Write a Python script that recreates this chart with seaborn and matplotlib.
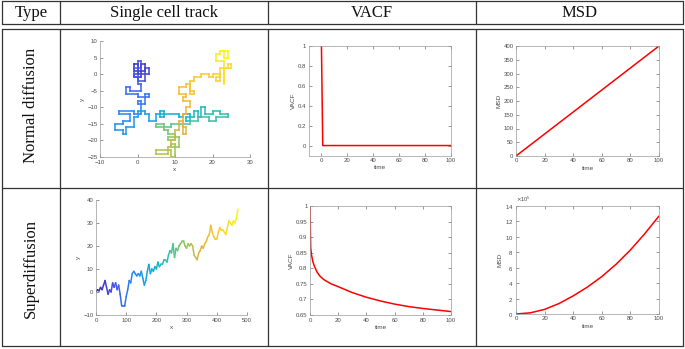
import matplotlib
matplotlib.use("Agg")
import matplotlib.pyplot as plt
from matplotlib.collections import LineCollection
from matplotlib.colors import LinearSegmentedColormap
from matplotlib.ticker import ScalarFormatter
import numpy as np
import seaborn as sns

# ---------------- data ----------------
header = ["Type", "Single cell track", "VACF", "MSD"]
row_labels = ["Normal diffusion", "Superdiffusion"]

# lattice random walk (corners of the path), normal diffusion
normal_track = [
    (0, 0), (0, 3), (-1, 3), (-1, 1), (2, 1), (2, 3), (1, 3), (1, -1), (-1, -1),
    (-1, 0), (3, 0), (3, 2), (2, 2), (2, -2), (0, -2), (0, 4), (1, 4), (1, 2),
    (-1, 2), (-1, -1), (0, -1), (0, -3), (1, -3),
    (1, -5), (-2, -5), (-2, -4), (-3, -4), (-3, -6), (0, -6), (0, -7), (3, -7),
    (3, -6), (2, -6), (2, -9), (0, -9), (0, -8), (1, -8), (1, -12), (-1, -12),
    (-1, -11), (-5, -11), (-5, -12), (-2, -12), (-2, -14), (-4, -14), (-4, -15),
    (-6, -15), (-6, -17), (-4, -17), (-4, -18), (-3, -18), (-3, -16), (-1, -16),
    (-1, -13), (0, -13), (0, -11), (2, -11), (2, -12),
    (3, -12), (3, -14), (5, -14), (5, -12), (6, -12), (6, -11), (7, -11), (7, -13),
    (6, -13), (6, -12), (11, -12), (11, -13), (12, -13), (12, -12), (14, -12),
    (14, -14), (13, -14), (13, -13), (15, -13),
    (15, -11), (16, -11), (16, -13), (17, -13), (17, -10), (18, -10), (18, -12),
    (20, -12), (20, -11), (22, -11), (22, -12), (24, -12), (24, -13), (21, -13),
    (21, -14), (19, -14), (19, -13), (16, -13), (16, -14), (14, -14), (14, -15),
    (12, -15),
    (9, -15), (9, -16), (5, -16), (5, -15), (7, -15), (7, -17), (8, -17), (8, -18),
    (10, -18),
    (10, -20), (8, -20), (8, -19), (11, -19), (11, -22), (9, -22), (9, -21),
    (10, -21), (10, -25), (9, -25), (9, -23), (5, -23), (5, -24), (8, -24),
    (8, -22), (9, -22), (9, -20), (10, -20), (10, -17),
    (11, -17), (11, -14), (12, -14), (12, -18), (13, -18), (13, -16), (12, -16),
    (12, -12), (13, -12), (13, -10), (14, -10), (14, -8), (12, -8), (12, -7),
    (13, -7), (13, -6), (11, -6), (11, -4), (13, -4), (13, -3), (14, -3), (14, -5),
    (15, -5), (15, -6), (14, -6), (14, -2),
    (15, -2), (15, -1), (17, -1), (17, 0), (19, 0), (19, -1), (20, -1), (20, 0),
    (22, 0), (22, -2), (21, -2), (21, -1), (22, -1),
    (22, 2), (24, 2), (24, 3), (25, 3), (25, 2), (23, 2), (23, -3), (23, 4),
    (21, 4), (21, 6), (22, 6), (22, 7), (23, 7), (23, 5), (24, 5), (24, 7), (22, 7),
]

# superdiffusive track
super_x = [0, 5, 10, 15, 20, 25, 30, 35, 40, 45, 50, 55, 60, 65, 70, 75, 80, 85,
           90, 95, 100, 105, 110, 115, 120, 125, 130, 135, 140, 145, 150, 155,
           160, 165, 170, 175, 180, 185, 190, 195, 200, 205, 210, 215, 220, 225,
           230, 235, 240, 245, 250, 255, 260, 265, 270, 275, 280, 285, 290, 295,
           300, 305, 310, 315, 320, 325, 330, 335, 340, 345, 350, 355, 360, 365,
           370, 375, 380, 385, 390, 395, 400, 405, 410, 415, 420, 425, 430, 435,
           440, 445, 450, 455, 460, 465, 470]
super_y = [0, 1, 0.5, 2, 1, 3, 5, 2, -1, 1, 0, 4, 2, 4, 1, 3, -1, -6, -6, -6,
           -2, 1, 5, 4, 8, 9, 8, 7, 8, 7, 9, 6, 3, 5, 9, 12, 8, 10, 9, 11, 10,
           13, 11, 12, 12, 14, 14, 13, 16, 18, 17, 21, 15, 19, 18, 20, 21, 22,
           22, 20, 19, 21, 20, 21, 20, 16, 15, 14, 17, 18, 20, 19, 21, 22, 24,
           25, 29, 26, 24, 23, 23, 26, 28, 27, 27, 26, 25, 28, 31, 30, 29, 31,
           30, 32, 36]

vacf_normal_t = [0, 1, 100]
vacf_normal = [1, 0, 0]
msd_normal_t = [0, 20, 40, 60, 80, 100]
msd_normal = [0, 80, 160, 240, 320, 400]

vacf_super_t = [0, 0.5, 1, 2, 3, 5, 7, 10, 15, 20, 30, 40, 50, 60, 70, 80, 90, 100]
vacf_super = [1.0, 0.865, 0.845, 0.822, 0.808, 0.788, 0.775, 0.763, 0.750,
              0.741, 0.722, 0.707, 0.695, 0.685, 0.677, 0.671, 0.666, 0.661]
msd_super_t = [0, 10, 20, 30, 40, 50, 60, 70, 80, 90, 100]
msd_super = [0, 0.15e5, 0.6e5, 1.35e5, 2.35e5, 3.5e5, 4.85e5, 6.45e5, 8.3e5,
             10.4e5, 12.7e5]

# ---------------- style ----------------
sns.set_theme(style="white")
plt.rcParams["font.family"] = ["Liberation Sans", "DejaVu Sans"]

parula = LinearSegmentedColormap.from_list("parula", [
    (0.00, (0.24, 0.15, 0.66)), (0.12, (0.27, 0.33, 0.95)),
    (0.28, (0.13, 0.55, 0.95)), (0.40, (0.05, 0.69, 0.84)),
    (0.50, (0.18, 0.75, 0.68)), (0.62, (0.55, 0.78, 0.35)),
    (0.75, (0.92, 0.70, 0.22)), (0.88, (0.99, 0.80, 0.19)),
    (1.00, (0.98, 0.96, 0.08))])

W, H = 685, 349
fig = plt.figure(figsize=(W / 100, H / 100), dpi=100)

# table frame drawn in pixel coordinates
bg = fig.add_axes([0, 0, 1, 1])
bg.set_xlim(0, W)
bg.set_ylim(H, 0)
bg.axis("off")
lc = "#333333"
for y in [1, 24, 29, 188, 346]:
    bg.plot([2, 683], [y, y], color=lc, lw=0.9)
for x in [2, 60.5, 268, 476, 683]:
    bg.plot([x, x], [1, 24], color=lc, lw=0.9)
    bg.plot([x, x], [29, 346], color=lc, lw=0.9)

serif = ["Liberation Serif", "DejaVu Serif"]
for txt, cx in zip(header, [31, 164, 372, 580]):
    bg.text(cx, 13, txt, family=serif, fontsize=12, ha="center", va="center",
            color="#111111")
for txt, cy in zip(row_labels, [105, 268]):
    bg.text(31, cy, txt, family=serif, fontsize=12, ha="center", va="center",
            rotation=90, color="#111111")


def add_ax(left, right, top, bottom):
    return fig.add_axes([left / W, 1 - bottom / H, (right - left) / W,
                         (bottom - top) / H])


def style(ax, box):
    ax.set_facecolor("white")
    ax.tick_params(direction="in", length=2, width=0.4, labelsize=4.3,
                   colors="#4a4a4a", pad=1.8, top=box, right=box,
                   bottom=True, left=True)
    for side, sp in ax.spines.items():
        sp.set_linewidth(0.5)
        sp.set_color("#9a9a9a")
        if not box and side in ("top", "right"):
            sp.set_visible(False)
    ax.grid(False)


def label(ax, xl, yl):
    ax.set_xlabel(xl, fontsize=4.6, color="#4a4a4a", labelpad=1.5)
    ax.set_ylabel(yl, fontsize=4.6, color="#4a4a4a", labelpad=1.5)


# --- normal diffusion track ---
ax1 = add_ax(100, 250, 41, 157)
pts = np.array(normal_track, dtype=float)
segs = np.stack([pts[:-1], pts[1:]], axis=1)
seglen = np.abs(pts[1:] - pts[:-1]).sum(axis=1)
mid = (np.cumsum(seglen) - seglen / 2) / seglen.sum()
ax1.add_collection(LineCollection(segs, colors=parula(mid), linewidths=1.1,
                                  capstyle="projecting", joinstyle="miter"))
ax1.set_xlim(-10, 30)
ax1.set_ylim(-25, 10)
ax1.set_xticks([-10, 0, 10, 20, 30])
ax1.set_yticks(range(-25, 11, 5))
style(ax1, False)
label(ax1, "x", "y")

# --- normal VACF ---
ax2 = add_ax(308.5, 451, 46, 155.5)
sns.lineplot(x=vacf_normal_t, y=vacf_normal, ax=ax2, color="red", lw=1.1,
             estimator=None, sort=False)
ax2.set_xlim(-10, 100)
ax2.set_ylim(-0.1, 1)
ax2.set_xticks([0, 20, 40, 60, 80, 100])
ax2.set_yticks([0, 0.2, 0.4, 0.6, 0.8, 1])
ax2.set_yticklabels(["0", "0.2", "0.4", "0.6", "0.8", "1"])
style(ax2, True)
label(ax2, "time", "VACF")

# --- normal MSD ---
ax3 = add_ax(516, 659, 46, 156)
sns.lineplot(x=msd_normal_t, y=msd_normal, ax=ax3, color="red", lw=1.1,
             estimator=None, sort=False)
ax3.set_xlim(0, 100)
ax3.set_ylim(0, 400)
ax3.set_xticks([0, 20, 40, 60, 80, 100])
ax3.set_yticks(range(0, 401, 50))
style(ax3, True)
label(ax3, "time", "MSD")

# --- superdiffusion track ---
ax4 = add_ax(96, 247, 200, 315)
sp = np.column_stack([super_x, super_y]).astype(float)
ssegs = np.stack([sp[:-1], sp[1:]], axis=1)
sfrac = np.linspace(0, 1, len(ssegs))
ax4.add_collection(LineCollection(ssegs, colors=parula(sfrac), linewidths=1.1,
                                  capstyle="round"))
ax4.set_xlim(0, 500)
ax4.set_ylim(-10, 40)
ax4.set_xticks(range(0, 501, 100))
ax4.set_yticks(range(-10, 41, 10))
style(ax4, False)
label(ax4, "x", "y")

# --- superdiffusion VACF ---
ax5 = add_ax(310, 451, 206, 315)
sns.lineplot(x=vacf_super_t, y=vacf_super, ax=ax5, color="red", lw=1.1,
             estimator=None, sort=False)
ax5.set_xlim(0, 100)
ax5.set_ylim(0.65, 1)
ax5.set_xticks([0, 20, 40, 60, 80, 100])
ax5.set_yticks([0.65, 0.7, 0.75, 0.8, 0.85, 0.9, 0.95, 1])
ax5.set_yticklabels(["0.65", "0.7", "0.75", "0.8", "0.85", "0.9", "0.95", "1"])
style(ax5, True)
label(ax5, "time", "VACF")

# --- superdiffusion MSD ---
ax6 = add_ax(516, 659, 206, 314)
sns.lineplot(x=msd_super_t, y=msd_super, ax=ax6, color="red", lw=1.1,
             estimator=None, sort=False)
ax6.set_xlim(0, 100)
ax6.set_ylim(0, 14e5)
ax6.set_xticks([0, 20, 40, 60, 80, 100])
ax6.set_yticks(np.arange(0, 14.1e5, 2e5))
fmt = ScalarFormatter(useMathText=True)
fmt.set_powerlimits((5, 5))
ax6.yaxis.set_major_formatter(fmt)
ax6.yaxis.get_offset_text().set_fontsize(4)
ax6.yaxis.get_offset_text().set_color("#4a4a4a")
style(ax6, True)
label(ax6, "time", "MSD")

fig.savefig("out.png", dpi=100)
